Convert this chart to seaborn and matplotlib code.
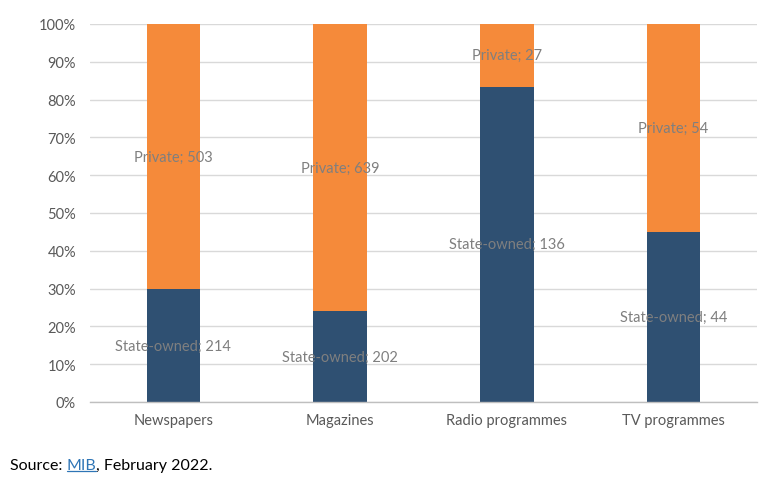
import matplotlib
matplotlib.use("Agg")
import matplotlib.pyplot as plt
import seaborn as sns
import pandas as pd
import numpy as np

categories = ["Newspapers", "Magazines", "Radio programmes", "TV programmes"]
state_owned = [214, 202, 136, 44]
private = [503, 639, 27, 54]
yticks = [0, 10, 20, 30, 40, 50, 60, 70, 80, 90, 100]

sns.set_theme(style="white")
plt.rcParams['font.family'] = ['Lato', 'DejaVu Sans']

state = np.array(state_owned, dtype=float)
priv = np.array(private, dtype=float)
total = state + priv
state_pct = state / total * 100
priv_pct = priv / total * 100

df = pd.DataFrame({"cat": categories, "state": state_pct, "top": state_pct + priv_pct})

fig = plt.figure(figsize=(7.75, 4.81), dpi=100)
ax = fig.add_axes([90/775, 1 - 403/481, (757-90)/775, (403-25)/481])

for v in yticks:
    ax.axhline(v, color="#d9d9d9", lw=1, zorder=0)

sns.barplot(data=df, x="cat", y="top", color="#F58A3A", width=0.32, ax=ax,
            saturation=1, zorder=2, linewidth=0, edgecolor="none")
sns.barplot(data=df, x="cat", y="state", color="#2F5072", width=0.32, ax=ax,
            saturation=1, zorder=3, linewidth=0, edgecolor="none")

for i in range(len(categories)):
    ax.text(i, state_pct[i] / 2, f"State-owned; {state_owned[i]}", ha="center",
            va="center", color="#7f7f7f", fontsize=10.5, zorder=5)
    ax.text(i, state_pct[i] + priv_pct[i] / 2, f"Private; {private[i]}", ha="center",
            va="center", color="#7f7f7f", fontsize=10.5, zorder=5)

ax.set_ylim(0, 100)
ax.set_xlim(-0.5, 3.5)
ax.set_yticks(yticks)
ax.set_yticklabels([f"{v}%" for v in yticks])
ax.set_xlabel("")
ax.set_ylabel("")
ax.tick_params(axis="both", length=0, colors="#595959", labelsize=10.5)
ax.tick_params(axis="x", pad=8)
ax.tick_params(axis="y", pad=10)
for s in ["top", "right", "left"]:
    ax.spines[s].set_visible(False)
ax.spines["bottom"].set_color("#bfbfbf")
ax.spines["bottom"].set_linewidth(1)
ax.spines["bottom"].set_zorder(4)

fs = 11.5
t1 = fig.text(10/775, 1 - 466/481, "Source: ", fontsize=fs, color="black", va="center")
fig.canvas.draw()
r = fig.canvas.get_renderer()
bb = t1.get_window_extent(renderer=r)
x2 = bb.x1 / fig.bbox.width
t2 = fig.text(x2, 1 - 466/481, "MIB", fontsize=fs, color="#2E75B6", va="center")
bb2 = t2.get_window_extent(renderer=r)
fig.add_artist(plt.Line2D([bb2.x0 / fig.bbox.width, bb2.x1 / fig.bbox.width],
                          [(bb2.y0 + 1) / fig.bbox.height] * 2,
                          color="#2E75B6", lw=0.9))
x3 = bb2.x1 / fig.bbox.width
fig.text(x3, 1 - 466/481, ", February 2022.", fontsize=fs, color="black", va="center")

fig.savefig("out.png", dpi=100)
